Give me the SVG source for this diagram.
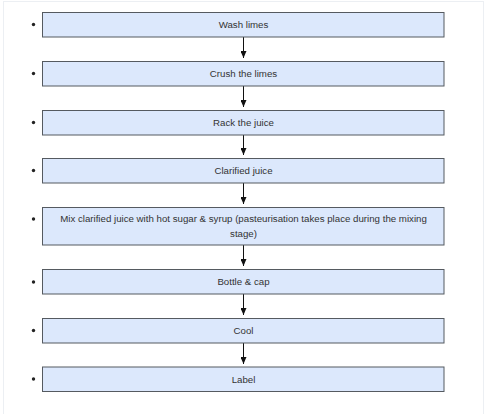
<svg xmlns="http://www.w3.org/2000/svg" width="487" height="414" viewBox="0 0 487 414">
<defs>
<style>
.box{fill:#dce8fc;stroke:#555a60;stroke-width:1}
.t{font-family:"Liberation Sans",Arial,sans-serif;font-size:9.7px;fill:#333;text-anchor:middle}
.dot{fill:#222}
.c{stroke:#111;stroke-width:1;fill:none;marker-end:url(#ah)}
</style>
<marker id="ah" viewBox="0 0 7 6" refX="7" refY="3" markerWidth="7" markerHeight="6" markerUnits="userSpaceOnUse" orient="auto">
<path d="M0,0 L7,3 L0,6 Z" fill="#111"/>
</marker>
</defs>
<rect x="0" y="0" width="487" height="414" fill="#ffffff"/>
<rect x="3.5" y="1.5" width="480" height="420" fill="none" stroke="#eceff3" stroke-width="1"/>
<g id="connectors">
<line class="c" x1="243.5" y1="37" x2="243.5" y2="58"/>
<line class="c" x1="243.5" y1="86" x2="243.5" y2="107"/>
<line class="c" x1="243.5" y1="135" x2="243.5" y2="155"/>
<line class="c" x1="243.5" y1="183" x2="243.5" y2="204"/>
<line class="c" x1="243.5" y1="245" x2="243.5" y2="266"/>
<line class="c" x1="243.5" y1="294" x2="243.5" y2="315"/>
<line class="c" x1="243.5" y1="343" x2="243.5" y2="364"/>
</g>
<g id="n1"><circle class="dot" cx="33.5" cy="24.5" r="1.7"/><rect class="box" x="42.5" y="12.5" width="401.5" height="24.5"/><text class="t" x="243.5" y="28">Wash limes</text></g>
<g id="n2"><circle class="dot" cx="33.5" cy="73.5" r="1.7"/><rect class="box" x="42.5" y="61.5" width="401.5" height="24.5"/><text class="t" x="243.5" y="77">Crush the limes</text></g>
<g id="n3"><circle class="dot" cx="33.5" cy="122.5" r="1.7"/><rect class="box" x="42.5" y="110.5" width="401.5" height="24.5"/><text class="t" x="243.5" y="126">Rack the juice</text></g>
<g id="n4"><circle class="dot" cx="33.5" cy="170.5" r="1.7"/><rect class="box" x="42.5" y="158.5" width="401.5" height="24.5"/><text class="t" x="243.5" y="174">Clarified juice</text></g>
<g id="n5"><circle class="dot" cx="33.5" cy="219" r="1.7"/><rect class="box" x="42.5" y="207.5" width="401.5" height="37.5"/><text class="t" x="243.5" y="222">Mix clarified juice with hot sugar &amp; syrup (pasteurisation takes place during the mixing</text><text class="t" x="243.5" y="237">stage)</text></g>
<g id="n6"><circle class="dot" cx="33.5" cy="282" r="1.7"/><rect class="box" x="42.5" y="269.5" width="401.5" height="24.5"/><text class="t" x="243.5" y="285">Bottle &amp; cap</text></g>
<g id="n7"><circle class="dot" cx="33.5" cy="330.5" r="1.7"/><rect class="box" x="42.5" y="318.5" width="401.5" height="24.5"/><text class="t" x="243.5" y="334">Cool</text></g>
<g id="n8"><circle class="dot" cx="33.5" cy="379" r="1.7"/><rect class="box" x="42.5" y="367" width="401.5" height="24.5"/><text class="t" x="243.5" y="382.5">Label</text></g>
</svg>
